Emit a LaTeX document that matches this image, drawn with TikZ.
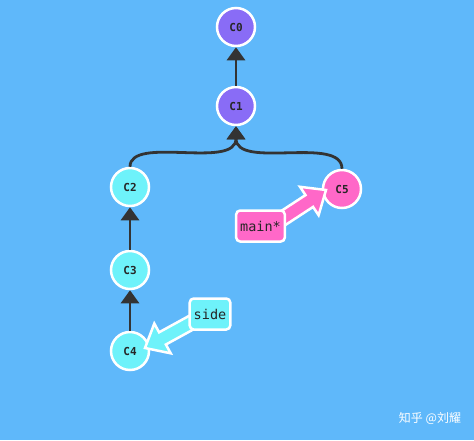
\documentclass[tikz,border=0pt]{standalone}
\usepackage{fontspec}
\setmonofont{DejaVu Sans Mono}
\newfontfamily\cjk{Noto Sans CJK SC}
\usetikzlibrary{arrows.meta}
\definecolor{bg}{RGB}{95,184,250}
\definecolor{cpurple}{RGB}{137,108,246}
\definecolor{ccyan}{RGB}{110,242,250}
\definecolor{cpink}{RGB}{255,104,200}
\definecolor{edgec}{RGB}{51,51,51}
\tikzset{
  commit/.style={circle,draw=white,line width=2.5pt,minimum size=38pt,inner sep=0pt,
    font=\ttfamily\bfseries\fontsize{11}{13}\selectfont,text=black!85},
  parentedge/.style={draw=edgec,line width=2.8pt,-{Triangle[width=18pt,length=13pt]}},
  branchbox/.style={draw=white,line width=2.5pt,rounded corners=4pt,inner xsep=4pt,
    minimum height=31pt,font=\ttfamily\fontsize{13.5}{15}\selectfont,text=black!85},
  fatarrow/.style={draw=white,line width=2.5pt,line join=miter}
}
\begin{document}
\begin{tikzpicture}[x=1pt,y=-1pt]
\fill[bg] (0,0) rectangle (474,440);
\useasboundingbox (0,0) rectangle (474,440);

\node[commit,fill=cpurple] (c0) at (236,27) {C0};
\node[commit,fill=cpurple] (c1) at (236,106) {C1};
\node[commit,fill=ccyan] (c2) at (130,187) {C2};
\node[commit,fill=ccyan] (c3) at (130,270) {C3};
\node[commit,fill=ccyan] (c4) at (130,351) {C4};
\node[commit,fill=cpink] (c5) at (342,189) {C5};

\draw[parentedge] (c1) -- (c0);
\draw[parentedge] (c3) -- (c2);
\draw[parentedge] (c4) -- (c3);
\draw[parentedge] (c2.north) .. controls (130,135) and (236,170) .. (c1.south);
\draw[parentedge] (c5.north) .. controls (342,135) and (236,170) .. (c1.south);

% fat branch arrows
\filldraw[fatarrow,fill=cpink] (271.8,233.9) -- (313.1,206.9) -- (318.6,215.2) -- (326,190)
  -- (300.0,186.8) -- (305.5,195.1) -- (264.2,222.1) -- cycle;
\filldraw[fatarrow,fill=ccyan] (210.4,320.1) -- (165.9,344.5) -- (170.7,353.3) -- (145,348)
  -- (154.3,323.5) -- (159.1,332.3) -- (203.6,307.9) -- cycle;

\node[branchbox,fill=cpink] (main) at (260.5,226) {main*};
\node[branchbox,fill=ccyan] (side) at (210,314) {side};

\node[text=white,font=\cjk\fontsize{12}{14}\selectfont] (wm) at (430,418) {知乎 @刘耀};
\end{tikzpicture}
\end{document}
